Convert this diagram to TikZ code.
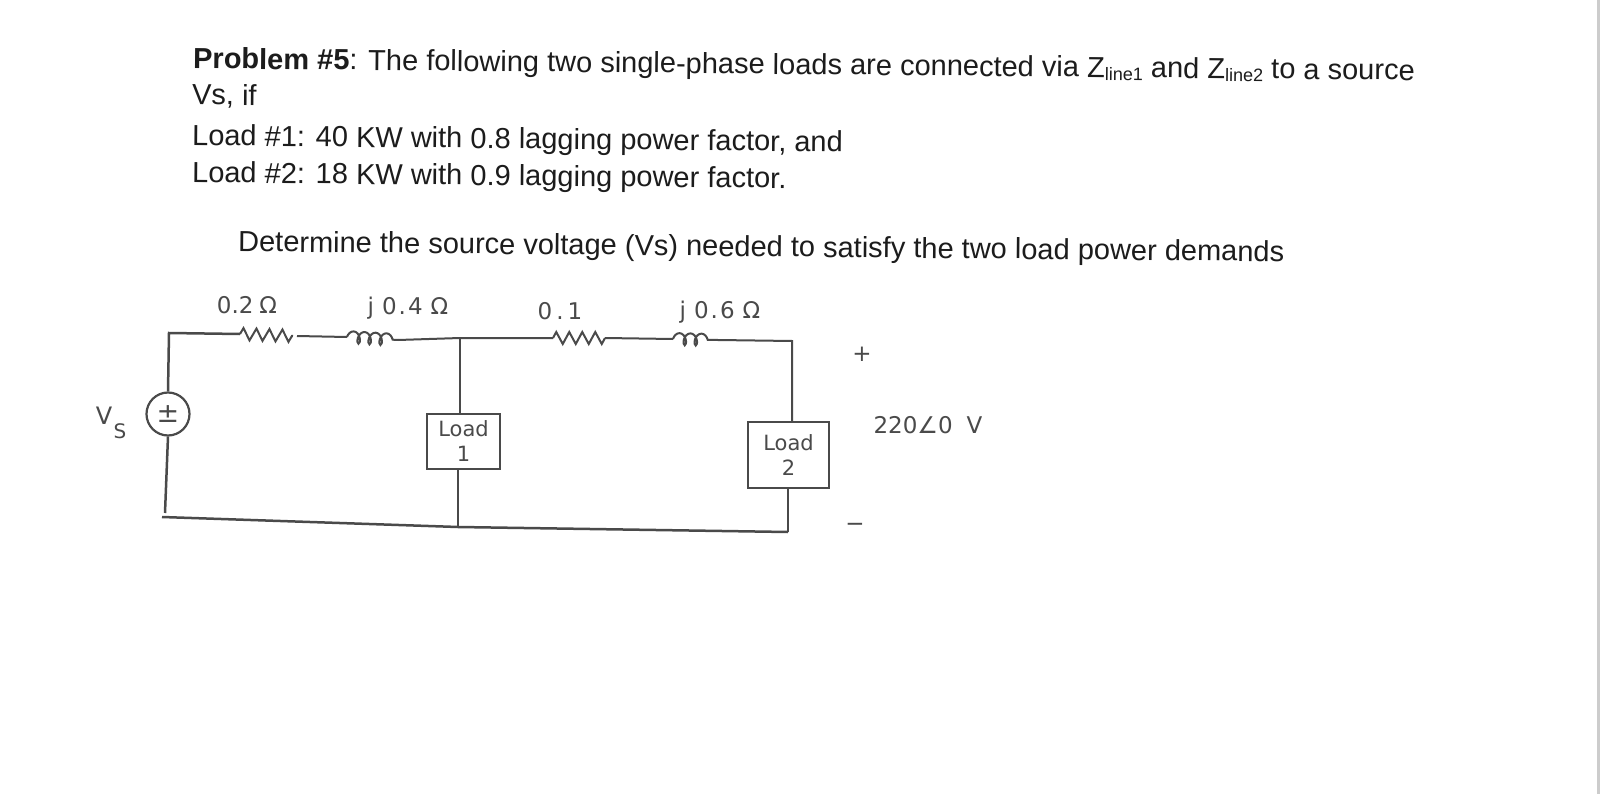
\documentclass[tikz,border=0pt]{standalone}
\usepackage{fontspec}
\setmainfont{Liberation Sans}
\newfontfamily\hand{DejaVu Sans}
\usetikzlibrary{decorations.pathmorphing}
\definecolor{ink}{HTML}{1C1C1C}
\definecolor{pencil}{HTML}{4A4A4A}
\tikzset{
  x=1pt,y=-1pt,
  body/.style={anchor=west,inner sep=0pt,text=ink,font=\fontsize{29}{31}\selectfont},
  wire/.style={draw=pencil,line width=2pt},
  thickwire/.style={draw=pencil,line width=2.5pt},
  hw/.style={inner sep=0pt,text=pencil,font=\hand\fontsize{23}{26}\selectfont},
  loadbox/.style={draw=pencil,line width=2pt,inner sep=0pt,align=center,text=pencil,font=\hand\fontsize{21}{25}\selectfont},
  res/.style={wire,decorate,decoration={zigzag,amplitude=6pt,segment length=13pt}},
  ind/.style={wire,decorate,decoration={coil,amplitude=6pt,segment length=11pt,aspect=0.6}}
}
\begin{document}
\begin{tikzpicture}
\useasboundingbox (0,0) rectangle (1600,794);
\fill[white] (0,0) rectangle (1600,794);
\fill[black!20] (1597,0) rectangle (1600,794);
% problem text
\node[body,rotate=-0.55] (t1) at (193,61) {\textbf{Problem \#5}: The following two single-phase loads are connected via Z\raisebox{-0.2ex}{\fontsize{18}{20}\selectfont line1} and Z\raisebox{-0.2ex}{\fontsize{18}{20}\selectfont line2} to a source};
\node[body,rotate=-0.55] (t2) at (192,96) {Vs, if};
\node[body,rotate=-0.55] (t3) at (192,138) {Load \#1: 40 KW with 0.8 lagging power factor, and};
\node[body,rotate=-0.55] (t4) at (192,175) {Load \#2: 18 KW with 0.9 lagging power factor.};
\node[body,rotate=-0.55] (t5) at (238,244) {Determine the source voltage (Vs) needed to satisfy the two load power demands};
% circuit nodes
\node[draw=pencil,line width=2.2pt,inner sep=0pt,circle,minimum size=43pt,text=pencil,font=\hand\fontsize{27}{28}\selectfont] (vs) at (168,414) {±};
\node[loadbox,minimum width=73pt,minimum height=55pt] (l1) at (463.5,441.5) {Load\\1};
\node[loadbox,line width=2.5pt,minimum width=81pt,minimum height=66pt] (l2) at (788.5,455) {Load\\2};
\coordinate (tl) at (169,333);
\coordinate (r1a) at (240,334);
\coordinate (r1b) at (293,336);
\coordinate (w1) at (297,336);
\coordinate (i1a) at (347,337);
\coordinate (i1b) at (398,340);
\coordinate (j1) at (460,338);
\coordinate (r2a) at (553,338);
\coordinate (r2b) at (605,338);
\coordinate (i2a) at (673,339);
\coordinate (i2b) at (718,340);
\coordinate (tr) at (792,341);
\coordinate (bl) at (162,517);
\coordinate (j2) at (458,527);
\coordinate (br) at (788,532);
\coordinate (sb) at (165,513);
% wires
\draw[thickwire] (vs.north) -- (tl) -- (r1a);
\draw[res] (r1a) -- (r1b);
\draw[wire] (w1) -- (i1a);
\draw[ind] (i1a) -- (i1b);
\draw[wire] (i1b) -- (j1) -- (r2a);
\draw[res] (r2a) -- (r2b);
\draw[wire] (r2b) -- (i2a);
\draw[ind] (i2a) -- (i2b);
\draw[wire] (i2b) -- (tr) -- (l2.north -| tr);
\draw[wire] (j1) -- (l1.north -| j1);
\draw[wire] (l1.south -| j2) -- (j2);
\draw[wire] (l2.south -| br) -- (br);
\draw[thickwire] (vs.south) -- (sb);
\draw[thickwire] (bl) -- (j2) -- (br);
% labels
\node[hw] (a) at (247,305) {0.2\hspace{6pt}Ω};
\node[hw] (b) at (408,308) {j\hspace{8pt}0\hspace{2pt}.\hspace{2pt}4\hspace{8pt}Ω};
\node[hw] (c) at (560,311) {0\hspace{4pt}.\hspace{4pt}1};
\node[hw] (d) at (720,312) {j\hspace{8pt}0\hspace{2pt}.\hspace{2pt}6\hspace{8pt}Ω};
\node[hw] (e) at (862,354) {+};
\node[hw] (f) at (855,527) {−};
\node[hw] (g) at (928,425) {220∠0\hspace{14pt}V};
\node[hw,font=\hand\fontsize{24}{26}\selectfont] (h) at (104,416) {V};
\node[hw,font=\hand\fontsize{20}{22}\selectfont] (i) at (120,431) {S};
\end{tikzpicture}
\end{document}
